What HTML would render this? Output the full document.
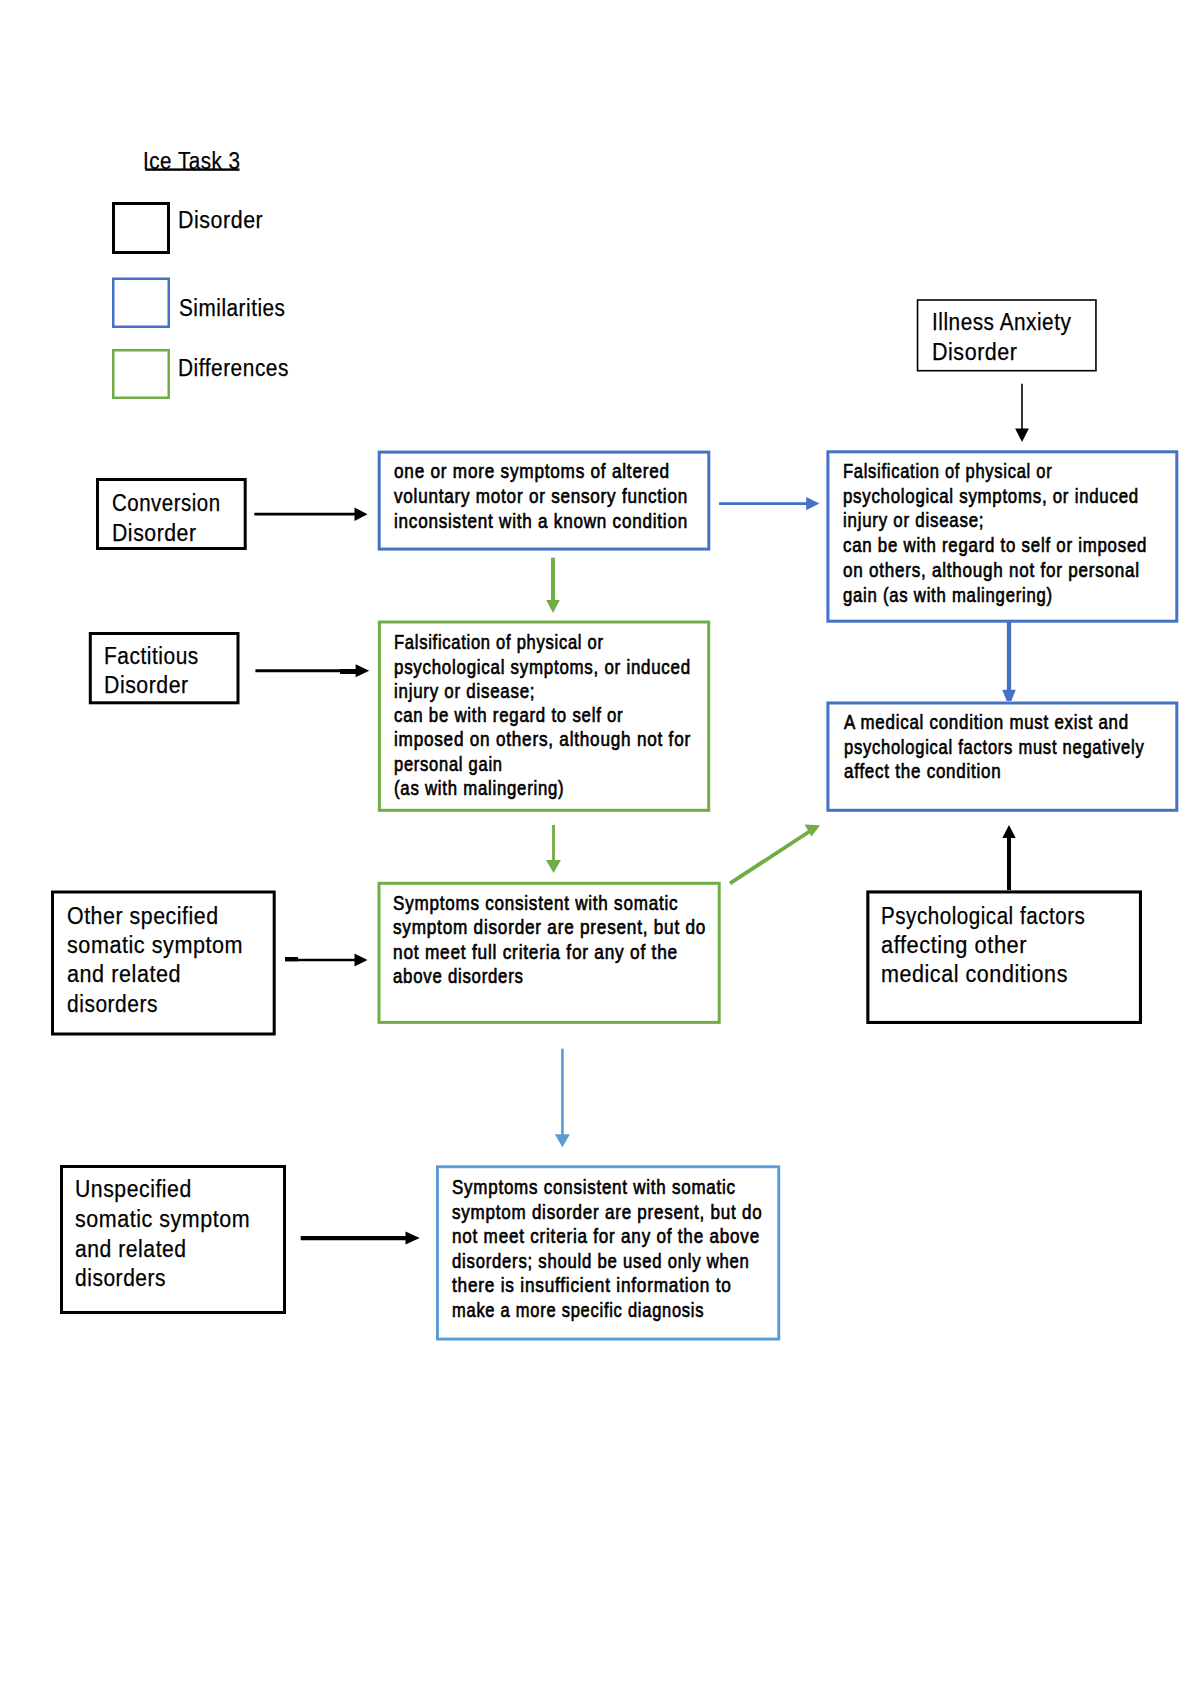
<!DOCTYPE html>
<html><head><meta charset="utf-8"><style>
html,body{margin:0;padding:0;background:#fff;overflow:hidden;}
body{width:1200px;height:1698px;position:relative;overflow:hidden;font-family:"Liberation Sans",sans-serif;color:#000;}
svg{position:absolute;left:0;top:0;}
.t{position:absolute;white-space:nowrap;line-height:1;transform-origin:0 0;}
</style></head><body>
<svg width="1200" height="1698" viewBox="0 0 1200 1698">
<rect x="113.50" y="203.50" width="55.00" height="49.00" fill="none" stroke="#000000" stroke-width="3"/>
<rect x="113.25" y="278.75" width="55.50" height="48.00" fill="none" stroke="#4472C4" stroke-width="2.5"/>
<rect x="113.25" y="350.25" width="55.50" height="47.50" fill="none" stroke="#70AD47" stroke-width="2.5"/>
<rect x="97.50" y="479.50" width="147.70" height="69.00" fill="none" stroke="#000000" stroke-width="3"/>
<rect x="379.20" y="452.10" width="329.60" height="97.00" fill="none" stroke="#4472C4" stroke-width="3"/>
<rect x="827.90" y="451.80" width="348.90" height="169.40" fill="none" stroke="#4472C4" stroke-width="3"/>
<rect x="917.55" y="300.00" width="178.40" height="70.70" fill="none" stroke="#000000" stroke-width="1.6"/>
<rect x="90.30" y="633.50" width="147.70" height="69.30" fill="none" stroke="#000000" stroke-width="3"/>
<rect x="379.40" y="622.00" width="329.30" height="188.30" fill="none" stroke="#70AD47" stroke-width="3"/>
<rect x="827.90" y="703.00" width="348.90" height="107.30" fill="none" stroke="#4472C4" stroke-width="3"/>
<rect x="52.50" y="892.00" width="221.70" height="142.00" fill="none" stroke="#000000" stroke-width="3"/>
<rect x="379.00" y="883.30" width="340.20" height="139.10" fill="none" stroke="#70AD47" stroke-width="3"/>
<rect x="867.85" y="891.95" width="272.60" height="130.50" fill="none" stroke="#000000" stroke-width="3.1"/>
<rect x="61.50" y="1166.50" width="223.00" height="146.00" fill="none" stroke="#000000" stroke-width="3"/>
<rect x="437.45" y="1166.75" width="341.30" height="172.30" fill="none" stroke="#5B9BD5" stroke-width="2.9"/>
<line x1="254.3" y1="514.2" x2="355.5" y2="514.2" stroke="#000000" stroke-width="2.8"/>
<line x1="719" y1="503.6" x2="807.2" y2="503.6" stroke="#4472C4" stroke-width="2.8"/>
<line x1="1022" y1="383.75" x2="1022" y2="429.5" stroke="#000000" stroke-width="1.6"/>
<line x1="1009" y1="622" x2="1009" y2="701" stroke="#4472C4" stroke-width="4.3"/>
<line x1="553" y1="557.7" x2="553" y2="601" stroke="#70AD47" stroke-width="4"/>
<line x1="255.4" y1="670.7" x2="356.59999999999997" y2="670.7" stroke="#000000" stroke-width="3"/>
<line x1="553.5" y1="825" x2="553.5" y2="861" stroke="#70AD47" stroke-width="2.8"/>
<line x1="285" y1="960" x2="355.5" y2="960" stroke="#000000" stroke-width="2.5"/>
<line x1="1009" y1="890" x2="1009" y2="836.9" stroke="#000000" stroke-width="4"/>
<line x1="562.4" y1="1048.7" x2="562.4" y2="1135.3" stroke="#5B9BD5" stroke-width="2.6"/>
<line x1="300.7" y1="1238.1" x2="406.5" y2="1238.1" stroke="#000000" stroke-width="4.2"/>
<polygon points="354.50,507.50 367.50,514.20 354.50,520.90" fill="#000000"/>
<polygon points="806.20,497.00 819.50,503.60 806.20,510.20" fill="#4472C4"/>
<polygon points="1015.10,428.50 1022.00,442.00 1028.90,428.50" fill="#000000"/>
<polygon points="1002.20,689.80 1015.80,689.80 1011.20,701.00 1006.80,701.00" fill="#4472C4"/>
<polygon points="546.20,600.00 553.00,613.00 559.80,600.00" fill="#70AD47"/>
<polygon points="355.60,664.20 369.20,670.70 355.60,677.20" fill="#000000"/>
<polygon points="546.00,860.00 553.50,873.00 561.00,860.00" fill="#70AD47"/>
<polygon points="354.50,953.60 367.50,960.00 354.50,966.40" fill="#000000"/>
<polygon points="1002.30,837.90 1009.00,824.90 1015.70,837.90" fill="#000000"/>
<polygon points="554.90,1134.30 562.40,1147.30 569.90,1134.30" fill="#5B9BD5"/>
<polygon points="405.50,1231.60 419.75,1238.10 405.50,1244.60" fill="#000000"/>
<rect x="145.3" y="168.4" width="94.2" height="2.4" fill="#000"/>
<rect x="340" y="669" width="16" height="5" fill="#000000"/>
<rect x="285" y="957" width="13" height="4.25" fill="#000000"/>
<line x1="730" y1="883.3" x2="810.62" y2="830.76" stroke="#70AD47" stroke-width="3.8"/>
<polygon points="804.5,824.5 820,825.3 811.5,836.5" fill="#70AD47"/>
</svg>
<div class="t" id="t0" style="left:143.20px;top:149.61px;font-size:23.5px;font-weight:400;transform:scaleX(0.8757);-webkit-text-stroke:0.25px #000;letter-spacing:0.6px;">Ice Task 3</div>
<div class="t" id="t1" style="left:178.00px;top:209.11px;font-size:23.5px;font-weight:400;transform:scaleX(0.9108);-webkit-text-stroke:0.25px #000;letter-spacing:0.6px;">Disorder</div>
<div class="t" id="t2" style="left:179.00px;top:296.61px;font-size:23.5px;font-weight:400;transform:scaleX(0.8817);-webkit-text-stroke:0.25px #000;letter-spacing:0.6px;">Similarities</div>
<div class="t" id="t3" style="left:178.00px;top:356.61px;font-size:23.5px;font-weight:400;transform:scaleX(0.8871);-webkit-text-stroke:0.25px #000;letter-spacing:0.6px;">Differences</div>
<div class="t" id="t4" style="left:112.00px;top:491.61px;font-size:23.5px;font-weight:400;transform:scaleX(0.8699);-webkit-text-stroke:0.25px #000;letter-spacing:0.6px;">Conversion</div>
<div class="t" id="t5" style="left:112.00px;top:522.11px;font-size:23.5px;font-weight:400;transform:scaleX(0.9032);-webkit-text-stroke:0.25px #000;letter-spacing:0.6px;">Disorder</div>
<div class="t" id="t6" style="left:931.50px;top:311.31px;font-size:23.5px;font-weight:400;transform:scaleX(0.8827);-webkit-text-stroke:0.25px #000;letter-spacing:0.6px;">Illness Anxiety</div>
<div class="t" id="t7" style="left:931.50px;top:341.31px;font-size:23.5px;font-weight:400;transform:scaleX(0.9137);-webkit-text-stroke:0.25px #000;letter-spacing:0.6px;">Disorder</div>
<div class="t" id="t8" style="left:103.80px;top:644.81px;font-size:23.5px;font-weight:400;transform:scaleX(0.8896);-webkit-text-stroke:0.25px #000;letter-spacing:0.6px;">Factitious</div>
<div class="t" id="t9" style="left:103.80px;top:674.11px;font-size:23.5px;font-weight:400;transform:scaleX(0.9044);-webkit-text-stroke:0.25px #000;letter-spacing:0.6px;">Disorder</div>
<div class="t" id="t10" style="left:66.80px;top:904.91px;font-size:23.5px;font-weight:400;transform:scaleX(0.9079);-webkit-text-stroke:0.25px #000;letter-spacing:0.6px;">Other specified</div>
<div class="t" id="t11" style="left:66.80px;top:934.11px;font-size:23.5px;font-weight:400;transform:scaleX(0.9179);-webkit-text-stroke:0.25px #000;letter-spacing:0.6px;">somatic symptom</div>
<div class="t" id="t12" style="left:66.80px;top:963.31px;font-size:23.5px;font-weight:400;transform:scaleX(0.9189);-webkit-text-stroke:0.25px #000;letter-spacing:0.6px;">and related</div>
<div class="t" id="t13" style="left:66.80px;top:992.51px;font-size:23.5px;font-weight:400;transform:scaleX(0.8922);-webkit-text-stroke:0.25px #000;letter-spacing:0.6px;">disorders</div>
<div class="t" id="t14" style="left:880.60px;top:905.01px;font-size:23.5px;font-weight:400;transform:scaleX(0.8760);-webkit-text-stroke:0.25px #000;letter-spacing:0.6px;">Psychological factors</div>
<div class="t" id="t15" style="left:880.60px;top:933.76px;font-size:23.5px;font-weight:400;transform:scaleX(0.9275);-webkit-text-stroke:0.25px #000;letter-spacing:0.6px;">affecting other</div>
<div class="t" id="t16" style="left:880.60px;top:962.51px;font-size:23.5px;font-weight:400;transform:scaleX(0.9158);-webkit-text-stroke:0.25px #000;letter-spacing:0.6px;">medical conditions</div>
<div class="t" id="t17" style="left:75.40px;top:1178.31px;font-size:23.5px;font-weight:400;transform:scaleX(0.9026);-webkit-text-stroke:0.25px #000;letter-spacing:0.6px;">Unspecified</div>
<div class="t" id="t18" style="left:75.40px;top:1207.91px;font-size:23.5px;font-weight:400;transform:scaleX(0.9134);-webkit-text-stroke:0.25px #000;letter-spacing:0.6px;">somatic symptom</div>
<div class="t" id="t19" style="left:75.40px;top:1237.51px;font-size:23.5px;font-weight:400;transform:scaleX(0.8986);-webkit-text-stroke:0.25px #000;letter-spacing:0.6px;">and related</div>
<div class="t" id="t20" style="left:75.40px;top:1267.11px;font-size:23.5px;font-weight:400;transform:scaleX(0.8924);-webkit-text-stroke:0.25px #000;letter-spacing:0.6px;">disorders</div>
<div class="t" id="t21" style="left:394.40px;top:461.07px;font-size:20px;font-weight:400;transform:scaleX(0.8584);-webkit-text-stroke:0.65px #000;letter-spacing:0.9px;">one or more symptoms of altered</div>
<div class="t" id="t22" style="left:394.40px;top:485.82px;font-size:20px;font-weight:400;transform:scaleX(0.8548);-webkit-text-stroke:0.65px #000;letter-spacing:0.9px;">voluntary motor or sensory function</div>
<div class="t" id="t23" style="left:394.40px;top:510.57px;font-size:20px;font-weight:400;transform:scaleX(0.8548);-webkit-text-stroke:0.65px #000;letter-spacing:0.9px;">inconsistent with a known condition</div>
<div class="t" id="t24" style="left:843.40px;top:460.77px;font-size:20px;font-weight:400;transform:scaleX(0.8239);-webkit-text-stroke:0.65px #000;letter-spacing:0.9px;">Falsification of physical or</div>
<div class="t" id="t25" style="left:843.40px;top:485.55px;font-size:20px;font-weight:400;transform:scaleX(0.8408);-webkit-text-stroke:0.65px #000;letter-spacing:0.9px;">psychological symptoms, or induced</div>
<div class="t" id="t26" style="left:843.40px;top:510.33px;font-size:20px;font-weight:400;transform:scaleX(0.8441);-webkit-text-stroke:0.65px #000;letter-spacing:0.9px;">injury or disease;</div>
<div class="t" id="t27" style="left:843.40px;top:535.11px;font-size:20px;font-weight:400;transform:scaleX(0.8419);-webkit-text-stroke:0.65px #000;letter-spacing:0.9px;">can be with regard to self or imposed</div>
<div class="t" id="t28" style="left:843.40px;top:559.89px;font-size:20px;font-weight:400;transform:scaleX(0.8524);-webkit-text-stroke:0.65px #000;letter-spacing:0.9px;">on others, although not for personal</div>
<div class="t" id="t29" style="left:843.40px;top:584.67px;font-size:20px;font-weight:400;transform:scaleX(0.8351);-webkit-text-stroke:0.65px #000;letter-spacing:0.9px;">gain (as with malingering)</div>
<div class="t" id="t30" style="left:393.60px;top:632.27px;font-size:20px;font-weight:400;transform:scaleX(0.8250);-webkit-text-stroke:0.65px #000;letter-spacing:0.9px;">Falsification of physical or</div>
<div class="t" id="t31" style="left:393.60px;top:656.57px;font-size:20px;font-weight:400;transform:scaleX(0.8435);-webkit-text-stroke:0.65px #000;letter-spacing:0.9px;">psychological symptoms, or induced</div>
<div class="t" id="t32" style="left:393.60px;top:680.87px;font-size:20px;font-weight:400;transform:scaleX(0.8438);-webkit-text-stroke:0.65px #000;letter-spacing:0.9px;">injury or disease;</div>
<div class="t" id="t33" style="left:393.60px;top:705.17px;font-size:20px;font-weight:400;transform:scaleX(0.8409);-webkit-text-stroke:0.65px #000;letter-spacing:0.9px;">can be with regard to self or</div>
<div class="t" id="t34" style="left:393.60px;top:729.47px;font-size:20px;font-weight:400;transform:scaleX(0.8578);-webkit-text-stroke:0.65px #000;letter-spacing:0.9px;">imposed on others, although not for</div>
<div class="t" id="t35" style="left:393.60px;top:753.77px;font-size:20px;font-weight:400;transform:scaleX(0.8249);-webkit-text-stroke:0.65px #000;letter-spacing:0.9px;">personal gain</div>
<div class="t" id="t36" style="left:393.60px;top:778.07px;font-size:20px;font-weight:400;transform:scaleX(0.8378);-webkit-text-stroke:0.65px #000;letter-spacing:0.9px;">(as with malingering)</div>
<div class="t" id="t37" style="left:844.40px;top:712.07px;font-size:20px;font-weight:400;transform:scaleX(0.8443);-webkit-text-stroke:0.65px #000;letter-spacing:0.9px;">A medical condition must exist and</div>
<div class="t" id="t38" style="left:844.40px;top:736.57px;font-size:20px;font-weight:400;transform:scaleX(0.8266);-webkit-text-stroke:0.65px #000;letter-spacing:0.9px;">psychological factors must negatively</div>
<div class="t" id="t39" style="left:844.40px;top:761.07px;font-size:20px;font-weight:400;transform:scaleX(0.8486);-webkit-text-stroke:0.65px #000;letter-spacing:0.9px;">affect the condition</div>
<div class="t" id="t40" style="left:393.00px;top:892.67px;font-size:20px;font-weight:400;transform:scaleX(0.8529);-webkit-text-stroke:0.65px #000;letter-spacing:0.9px;">Symptoms consistent with somatic</div>
<div class="t" id="t41" style="left:393.00px;top:917.27px;font-size:20px;font-weight:400;transform:scaleX(0.8584);-webkit-text-stroke:0.65px #000;letter-spacing:0.9px;">symptom disorder are present, but do</div>
<div class="t" id="t42" style="left:393.00px;top:941.87px;font-size:20px;font-weight:400;transform:scaleX(0.8632);-webkit-text-stroke:0.65px #000;letter-spacing:0.9px;">not meet full criteria for any of the</div>
<div class="t" id="t43" style="left:393.00px;top:966.47px;font-size:20px;font-weight:400;transform:scaleX(0.8387);-webkit-text-stroke:0.65px #000;letter-spacing:0.9px;">above disorders</div>
<div class="t" id="t44" style="left:452.00px;top:1177.07px;font-size:20px;font-weight:400;transform:scaleX(0.8486);-webkit-text-stroke:0.65px #000;letter-spacing:0.9px;">Symptoms consistent with somatic</div>
<div class="t" id="t45" style="left:452.00px;top:1201.67px;font-size:20px;font-weight:400;transform:scaleX(0.8509);-webkit-text-stroke:0.65px #000;letter-spacing:0.9px;">symptom disorder are present, but do</div>
<div class="t" id="t46" style="left:452.00px;top:1226.27px;font-size:20px;font-weight:400;transform:scaleX(0.8555);-webkit-text-stroke:0.65px #000;letter-spacing:0.9px;">not meet criteria for any of the above</div>
<div class="t" id="t47" style="left:452.00px;top:1250.87px;font-size:20px;font-weight:400;transform:scaleX(0.8358);-webkit-text-stroke:0.65px #000;letter-spacing:0.9px;">disorders; should be used only when</div>
<div class="t" id="t48" style="left:452.00px;top:1275.47px;font-size:20px;font-weight:400;transform:scaleX(0.8618);-webkit-text-stroke:0.65px #000;letter-spacing:0.9px;">there is insufficient information to</div>
<div class="t" id="t49" style="left:452.00px;top:1300.07px;font-size:20px;font-weight:400;transform:scaleX(0.8243);-webkit-text-stroke:0.65px #000;letter-spacing:0.9px;">make a more specific diagnosis</div>
</body></html>
